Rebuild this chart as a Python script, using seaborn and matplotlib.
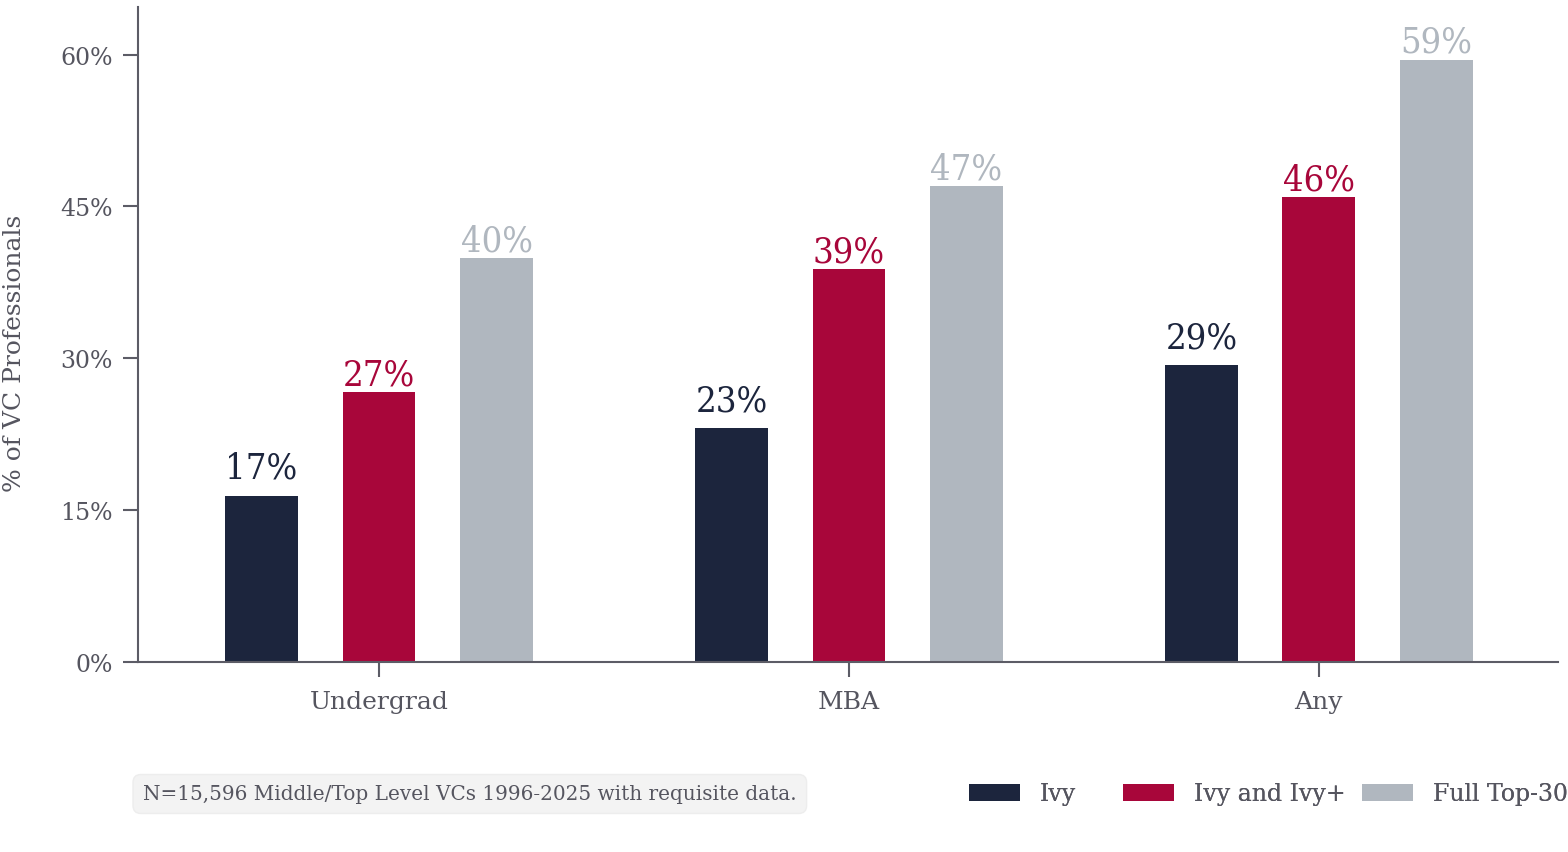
import matplotlib
matplotlib.use("Agg")
import matplotlib.pyplot as plt
import seaborn as sns
import pandas as pd
import numpy as np

categories = ["Undergrad", "MBA", "Any"]
series_names = ["Ivy", "Ivy and Ivy+", "Full Top-30"]
ivy = [16.4, 23.1, 29.3]
ivy_plus = [26.7, 38.8, 45.9]
full_top30 = [39.9, 47.0, 59.5]
value_labels = [["17%", "23%", "29%"], ["27%", "39%", "46%"], ["40%", "47%", "59%"]]
yticks = [0, 15, 30, 45, 60]
ytick_labels = ["0%", "15%", "30%", "45%", "60%"]
footnote = "N=15,596 Middle/Top Level VCs 1996-2025 with requisite data."
colors = ["#1C253D", "#A8063A", "#B0B7BF"]

sns.set_theme(style="white")
plt.rcParams["font.family"] = ["DejaVu Serif"]

rows = []
for name, vals in zip(series_names, [ivy, ivy_plus, full_top30]):
    for c, v in zip(categories, vals):
        rows.append({"category": c, "series": name, "value": v})
df = pd.DataFrame(rows)

W, H = 1568, 853
fig = plt.figure(figsize=(W / 100, H / 100), dpi=100)
ax = fig.add_axes([138 / W, 1 - 663 / H, (1558 - 138) / W, (663 - 8) / H])

sns.barplot(data=df, x="category", y="value", hue="series", order=categories,
            hue_order=series_names, palette=colors, width=0.75, gap=0.38,
            saturation=1, ax=ax, legend=True, edgecolor="none")

axis_color = "#5C5C66"
text_color = "#55555F"
paddings = [8, 0.5, 0.5]
for cont, labs, col, pad in zip(ax.containers, value_labels, colors, paddings):
    ax.bar_label(cont, labels=labs, padding=pad, color=col, fontsize=26,
                 fontstretch="condensed")

ax.set_ylim(0, 64.7)
ax.set_xlim(-0.513, 2.509)
ax.set_yticks(yticks)
ax.set_yticklabels(ytick_labels)
ax.set_xlabel("")
ax.set_ylabel("% of VC Professionals", fontsize=18, color=text_color)
ax.yaxis.set_label_coords(-0.079, 0.473)
for s in ["top", "right"]:
    ax.spines[s].set_visible(False)
for s in ["left", "bottom"]:
    ax.spines[s].set_color(axis_color)
    ax.spines[s].set_linewidth(1.5)
ax.tick_params(axis="y", length=11, width=1.5, color=axis_color, labelcolor=text_color,
               labelsize=17, pad=7, left=True)
ax.tick_params(axis="x", length=11, width=1.5, color=axis_color, labelcolor=text_color,
               labelsize=18, pad=9, bottom=True, direction="out")

handles, labels = ax.get_legend_handles_labels()
ax.get_legend().remove()
leg_x = [969, 1123, 1362]
for h, l, x in zip(handles, labels, leg_x):
    lg = fig.legend([h], [l], loc="center left", bbox_to_anchor=(x / W, 1 - 795 / H),
                    frameon=False, fontsize=17, handlelength=2.16, handleheight=0.72,
                    handletextpad=0.85, labelcolor=text_color, borderpad=0,
                    borderaxespad=0)
    fig.add_artist(lg)

fig.text(143 / W, 1 - 795 / H, footnote, fontsize=14.4, color=text_color,
         va="center", ha="left",
         bbox=dict(boxstyle="round,pad=0.5,rounding_size=0.4", facecolor="#F3F3F3",
                   edgecolor="#EDEDED"))

fig.savefig("out.png", dpi=100)
